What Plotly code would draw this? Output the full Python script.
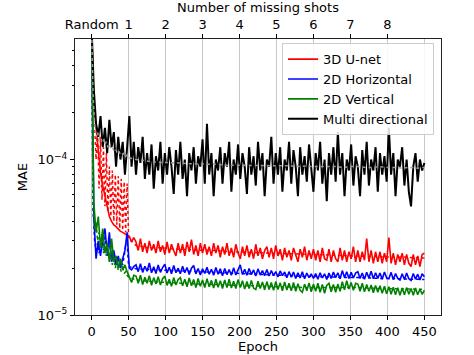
import plotly.graph_objects as go

# ---------------- data (MAE values in units of 1e-5) ----------------
SCALE = 1e-5
EPOCH_STEP = 3  # solid curves sampled every 3 epochs, 0..450

unet_solid = [
    70, 22, 16, 11, 8.2, 6.8, 5.8, 4.9, 4.3, 4.0,
    3.8, 3.7, 3.55, 3.45, 3.4, 3.3, 3.25, 3.2, 2.95, 3.15,
    2.95, 2.6, 3.1, 2.55, 2.9, 2.5, 3.0, 2.6, 2.85, 2.5,
    3.0, 2.55, 2.8, 2.45, 2.95, 2.5, 2.85, 2.6, 2.4, 2.9,
    2.5, 2.85, 2.4, 2.95, 2.55, 3.05, 2.45, 2.8, 2.4, 2.9,
    2.5, 2.85, 2.45, 2.75, 2.4, 2.9, 2.5, 2.8, 2.35, 2.75,
    2.45, 2.9, 2.4, 2.7, 2.35, 2.85, 2.5, 2.3, 2.75, 2.4,
    2.8, 2.35, 2.65, 2.3, 2.85, 2.4, 2.7, 2.3, 2.6, 2.75,
    2.35, 2.7, 2.3, 2.8, 2.4, 2.65, 2.25, 2.7, 2.35, 2.6,
    2.25, 2.7, 2.4, 2.2, 2.65, 2.35, 2.75, 2.25, 2.6, 2.3,
    2.65, 2.25, 2.6, 2.2, 2.7, 2.3, 2.25, 2.65, 2.2, 2.6,
    2.3, 2.2, 2.7, 2.25, 2.6, 2.2, 2.55, 2.3, 2.75, 2.2,
    2.6, 2.2, 2.55, 2.25, 3.1, 2.2, 2.6, 2.15, 2.55, 2.2,
    2.55, 2.15, 2.5, 2.2, 3.15, 2.15, 2.5, 2.1, 2.45, 2.2,
    2.5, 2.1, 2.45, 2.15, 2.05, 2.45, 2.1, 2.4, 2.05, 2.45,
    2.5,
]

horiz_solid = [
    70, 4.2, 2.3, 3.0, 2.4, 3.1, 3.6, 2.5, 3.4, 2.2,
    2.6, 2.1, 2.4, 2.0, 2.3, 2.6, 3.4, 2.0, 1.95, 2.05,
    2.1, 1.9, 2.14, 1.88, 2.06, 1.91, 2.16, 1.87, 2.04, 1.85,
    2.1, 1.88, 2.02, 2.12, 1.86, 2.03, 1.84, 2.08, 1.87, 2.0,
    1.84, 2.06, 1.87, 2.02, 1.82, 2.0, 2.08, 1.84, 1.99, 1.81,
    1.98, 1.85, 2.03, 1.83, 1.97, 1.8, 2.02, 1.83, 1.98, 1.79,
    1.99, 1.82, 1.96, 1.8, 2.01, 1.81, 1.95, 2.1, 1.82, 1.97,
    1.8, 1.99, 1.82, 1.95, 1.78, 1.98, 1.81, 1.93, 1.79, 1.96,
    1.78, 1.93, 1.8, 1.9, 1.76, 1.92, 1.79, 1.89, 1.74, 1.9,
    1.75, 1.89, 1.72, 1.87, 1.73, 1.9, 1.71, 1.86, 1.74, 1.84,
    1.72, 1.85, 1.7, 1.87, 1.73, 1.84, 1.69, 1.86, 1.72, 1.89,
    1.74, 1.87, 1.71, 1.93, 1.74, 1.9, 1.72, 1.88, 1.73, 1.86,
    1.9, 1.72, 1.86, 1.7, 1.88, 1.73, 1.91, 1.71, 1.87, 1.72,
    1.86, 1.7, 1.89, 1.73, 1.71, 1.88, 1.69, 1.85, 1.72, 1.68,
    1.84, 1.69, 1.86, 1.71, 1.67, 1.85, 1.7, 1.83, 1.68, 1.84,
    1.76,
]

vert_solid = [
    70, 5.2, 3.4, 4.3, 2.7, 3.6, 2.5, 2.9, 2.2, 3.1,
    2.2, 2.4, 2.0, 2.3, 1.95, 2.1, 1.9, 1.75, 1.62, 1.8,
    1.78, 1.6, 1.8, 1.57, 1.75, 1.6, 1.79, 1.55, 1.74, 1.58,
    1.76, 1.56, 1.71, 1.78, 1.55, 1.7, 1.53, 1.74, 1.56, 1.69,
    1.74, 1.54, 1.7, 1.52, 1.73, 1.54, 1.69, 1.5, 1.72, 1.53,
    1.68, 1.5, 1.71, 1.52, 1.67, 1.49, 1.7, 1.51, 1.66, 1.48,
    1.68, 1.5, 1.7, 1.49, 1.65, 1.48, 1.69, 1.5, 1.66, 1.47,
    1.64, 1.48, 1.67, 1.49, 1.46, 1.65, 1.48, 1.63, 1.45, 1.64,
    1.46, 1.62, 1.44, 1.64, 1.46, 1.61, 1.43, 1.63, 1.45, 1.6,
    1.43, 1.62, 1.42, 1.59, 1.44, 1.4, 1.58, 1.43, 1.61, 1.41,
    1.58, 1.42, 1.6, 1.4, 1.57, 1.38, 1.55, 1.6, 1.41, 1.57,
    1.4, 1.58, 1.42, 1.64, 1.45, 1.66, 1.47, 1.62, 1.44, 1.6,
    1.58, 1.42, 1.6, 1.41, 1.57, 1.42, 1.56, 1.39, 1.55, 1.4,
    1.54, 1.38, 1.53, 1.37, 1.52, 1.36, 1.51, 1.35, 1.5, 1.34,
    1.49, 1.35, 1.5, 1.36, 1.48, 1.34, 1.49, 1.35, 1.47, 1.36,
    1.44,
]

multi_solid = [
    70, 28, 17, 14, 19, 12, 16, 11, 18, 12,
    15, 9, 14, 10, 13, 8, 12, 19, 9, 13,
    8, 12, 9.5, 14, 7.5, 11, 8, 12.5, 6.5, 10.5,
    8.5, 13, 7, 11, 8, 12, 9, 6, 11.5, 8,
    13, 7.5, 10, 5.8, 11, 8.5, 12, 7, 10.5, 9,
    13.5, 7, 17, 8, 11, 5.8, 10, 8.5, 12, 7,
    11, 9, 13, 6.2, 10, 8, 12.5, 7.5, 11, 9,
    6, 12, 8, 10.5, 6.8, 13, 8.5, 11, 5.8, 10,
    9, 14, 7, 11, 8, 12, 6.2, 10, 8.5, 13,
    7, 11.5, 9, 5.8, 12, 8, 10.5, 7.2, 12.5, 9,
    6.2, 11, 8.5, 13, 7, 10, 5.4, 11, 8, 12,
    7.2, 15, 8, 11, 5.8, 10, 8.5, 12.5, 6.8, 10.5,
    9, 5.8, 11.5, 8, 13, 6.8, 10, 8.5, 12, 6.2,
    11, 8, 10.5, 7.2, 16, 8, 11, 5.8, 10, 9,
    12, 6.8, 10, 6.2, 5, 9, 11, 7.2, 10, 8.5,
    9.5,
]

# dotted curves: every 2 epochs for 0..50, then every 10 epochs for 60..450
dot_epochs = list(range(0, 51, 2)) + list(range(60, 451, 10))

unet_dotted = [
    70, 30, 17, 10, 16, 6.5, 14, 5.5, 12, 5.0, 11, 4.6, 9, 4.3, 8.5, 4.0,
    8.0, 3.8, 7.8, 3.6, 7.5, 3.5, 7.2, 3.4, 7.0, 3.1,
    2.8, 2.75, 2.7, 2.72, 2.68, 2.66, 2.65, 2.63, 2.62, 2.6,
    2.61, 2.58, 2.57, 2.55, 2.54, 2.53, 2.52, 2.5, 2.51, 2.48,
    2.47, 2.46, 2.45, 2.44, 2.43, 2.42, 2.43, 2.41, 2.4, 2.4,
    2.39, 2.38, 2.38, 2.37, 2.36, 2.35, 2.36, 2.34, 2.33, 2.33,
]

horiz_dotted = [
    70, 4.8, 3.0, 2.6, 2.9, 2.5, 2.8, 3.2, 2.6, 3.3, 2.7, 2.4, 3.0, 2.3, 2.5, 2.2,
    2.4, 2.1, 2.3, 2.0, 2.2, 2.1, 2.4, 2.8, 2.9, 2.05,
    1.98, 1.97, 1.95, 1.94, 1.93, 1.92, 1.91, 1.9, 1.9, 1.89,
    1.88, 1.87, 1.86, 1.86, 1.85, 1.84, 1.83, 1.82, 1.81, 1.8,
    1.79, 1.78, 1.78, 1.77, 1.77, 1.76, 1.76, 1.75, 1.75, 1.74,
    1.74, 1.73, 1.73, 1.72, 1.72, 1.71, 1.71, 1.7, 1.7, 1.69,
]

vert_dotted = [
    70, 4.6, 3.6, 4.0, 3.0, 3.4, 2.7, 3.3, 2.5, 2.8, 2.4, 2.7, 2.2, 2.6, 2.1, 2.3,
    2.0, 2.2, 1.95, 2.1, 1.9, 2.0, 1.85, 1.9, 1.8, 1.75,
    1.68, 1.66, 1.64, 1.63, 1.62, 1.61, 1.6, 1.59, 1.59, 1.58,
    1.57, 1.57, 1.56, 1.56, 1.55, 1.54, 1.54, 1.53, 1.53, 1.52,
    1.52, 1.51, 1.51, 1.5, 1.5, 1.5, 1.49, 1.49, 1.5, 1.51,
    1.5, 1.49, 1.49, 1.48, 1.48, 1.47, 1.47, 1.47, 1.46, 1.46,
]

multi_dotted = [
    70, 26, 17, 14, 15, 13.5, 14, 13, 13.5, 12.5, 13, 12, 12.5, 11.8, 12, 11.5,
    11.8, 11.2, 11.5, 11, 11.2, 10.8, 11, 10.5, 10.7, 10.3,
    10.0, 9.8, 9.7, 9.6, 9.6, 9.5, 9.5, 9.4, 9.4, 9.3,
    9.3, 9.3, 9.2, 9.2, 9.2, 9.2, 9.1, 9.1, 9.1, 9.1,
    9.2, 9.1, 9.0, 9.1, 9.0, 9.0, 9.1, 9.0, 8.9, 9.0,
    9.0, 8.9, 8.9, 9.0, 8.9, 8.9, 8.8, 8.9, 8.8, 8.9,
]

series_names = ["3D U-net", "2D Horizontal", "2D Vertical", "Multi directional"]
series_colors = ["#ff0000", "#0000ff", "#008000", "#000000"]
series_widths = [1.6, 1.6, 1.6, 2.0]
dotted_colors = ["#ff0000", "#0000ff", "#008000", "#9a9a9a"]
solid_values = [unet_solid, horiz_solid, vert_solid, multi_solid]
dotted_values = [unet_dotted, horiz_dotted, vert_dotted, multi_dotted]

epoch_ticks = [0, 50, 100, 150, 200, 250, 300, 350, 400, 450]
shot_ticks = [0, 50, 100, 150, 200, 250, 300, 350, 400]
shot_labels = ["Random", "1", "2", "3", "4", "5", "6", "7", "8"]

# ---------------- figure ----------------
FONT = "DejaVu Sans"
fig = go.Figure()

for name, color, lw, dcol, sv, dv in zip(series_names, series_colors, series_widths,
                                         dotted_colors, solid_values, dotted_values):
    ep = [EPOCH_STEP * i for i in range(len(sv))]
    fig.add_trace(go.Scatter(
        x=ep, y=[v * SCALE for v in sv], mode="lines", name=name,
        line=dict(color=color, width=lw), hoverinfo="skip"))
    fig.add_trace(go.Scatter(
        x=dot_epochs, y=[v * SCALE for v in dv], mode="lines", showlegend=False,
        line=dict(color=dcol, width=1.5, dash="dot"), hoverinfo="skip"))

# dummy trace to anchor the top axis
fig.add_trace(go.Scatter(x=[0], y=[2e-5], xaxis="x2", mode="markers",
                         marker=dict(opacity=0), showlegend=False, hoverinfo="skip"))

axis_font = dict(family=FONT, size=13, color="#000000")

fig.update_layout(
    width=474, height=355,
    margin=dict(l=75, r=33, t=39, b=40, autoexpand=False),
    paper_bgcolor="white", plot_bgcolor="white",
    font=axis_font,
    showlegend=True,
    legend=dict(
        x=0.981, y=0.985, xanchor="right", yanchor="top",
        bgcolor="rgba(255,255,255,0.85)", bordercolor="#cccccc", borderwidth=1,
        font=dict(family=FONT, size=13, color="#000000"),
        tracegroupgap=0, itemwidth=30,
    ),
    xaxis=dict(
        range=[-22.5, 472.5], tickmode="array", tickvals=epoch_ticks,
        ticks="outside", ticklen=4, tickwidth=1, tickcolor="#000000",
        showline=True, linecolor="#222222", linewidth=1, mirror=False,
        showgrid=True, gridcolor="#c8c8c8", gridwidth=1, zeroline=False,
        title=dict(text="Epoch", font=axis_font, standoff=0),
        tickfont=axis_font, automargin=False,
    ),
    xaxis2=dict(
        overlaying="x", side="top", anchor="y",
        range=[-22.5, 472.5], tickmode="array", tickvals=shot_ticks, ticktext=shot_labels,
        ticks="outside", ticklen=4, tickwidth=1, tickcolor="#000000",
        showline=True, linecolor="#222222", linewidth=1,
        showgrid=False, zeroline=False,
        title=dict(text="Number of missing shots", font=axis_font, standoff=1),
        tickfont=axis_font, automargin=False,
    ),
    yaxis=dict(
        type="log", range=[-5, -3.225],
        tickmode="array", tickvals=[1e-5, 1e-4],
        ticktext=["10<sup>−5</sup>", "10<sup>−4</sup>"],
        ticks="outside", ticklen=4, tickwidth=1, tickcolor="#000000",
        minor=dict(ticks="outside", ticklen=2, tickcolor="#000000",
                   tickvals=[2e-5, 3e-5, 4e-5, 5e-5, 6e-5, 7e-5, 8e-5, 9e-5,
                             2e-4, 3e-4, 4e-4, 5e-4],
                   showgrid=False),
        showline=True, linecolor="#222222", linewidth=1, mirror=True,
        showgrid=False, zeroline=False,
        title=dict(text="MAE", font=axis_font, standoff=6),
        tickfont=axis_font, automargin=False,
    ),
)

fig.write_html("out.html", config={"displayModeBar": False},
               post_script="document.body.style.margin='0';")
